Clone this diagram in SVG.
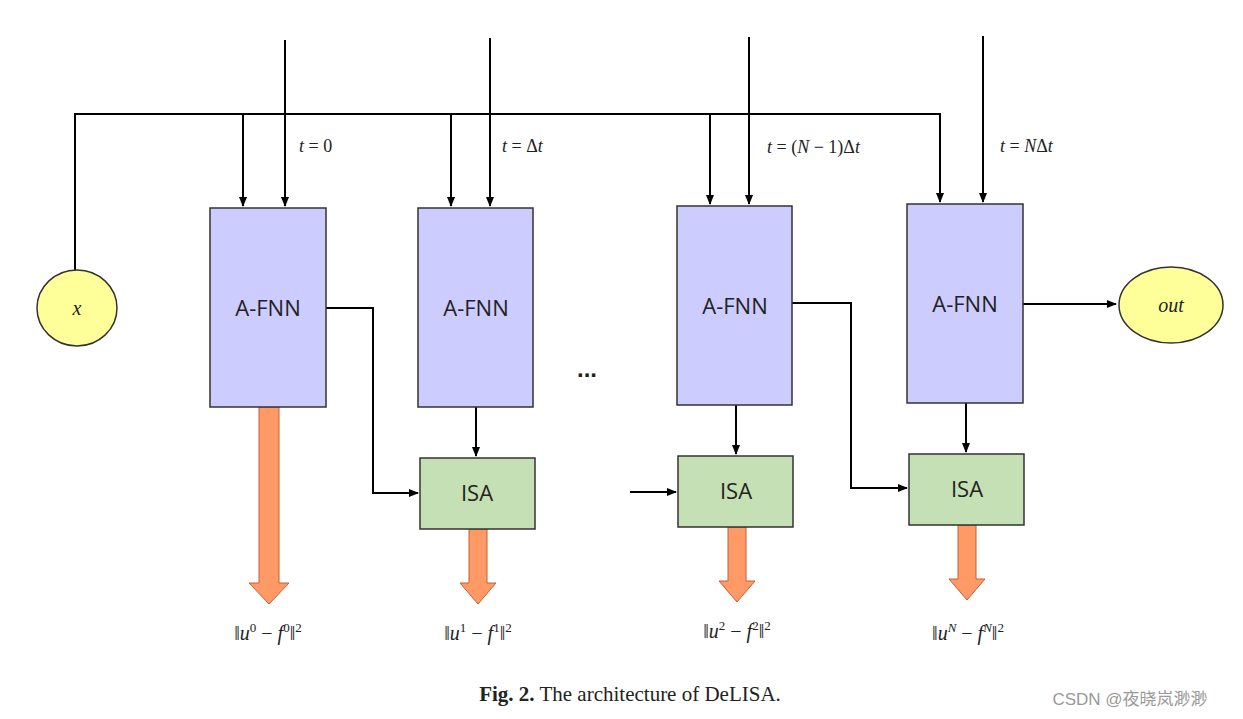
<svg xmlns="http://www.w3.org/2000/svg" width="1243" height="719" viewBox="0 0 1243 719">
<defs>
<marker id="ah" markerWidth="10" markerHeight="8" refX="9" refY="4" orient="auto" markerUnits="userSpaceOnUse"><path d="M0,0 L10,4 L0,8 Z" fill="#000"/></marker>
<style>
.fnn{fill:#ccccff;stroke:#333;stroke-width:1.5}
.isa{fill:#c5e0b4;stroke:#333;stroke-width:1.5}
.yel{fill:#ffff99;stroke:#333;stroke-width:1.5}
.big{fill:#ff9966;stroke:#c0603a;stroke-width:1}
.lbl{font-family:"Open Sans","Liberation Sans",sans-serif;font-size:22px;fill:#222;text-anchor:middle}
.m{font-family:"Liberation Serif",serif;font-size:18px;fill:#222}
.f{font-family:"Liberation Serif",serif;font-size:20px;fill:#222;text-anchor:middle}
.c{fill:none;stroke:#000;stroke-width:2}
</style>
</defs>
<rect width="1243" height="719" fill="#fff"/>
<g id="connectors">
<path class="c" d="M75,270 V114 H940 V202" marker-end="url(#ah)"/>
<path class="c" d="M243,114 V206" marker-end="url(#ah)"/>
<path class="c" d="M285,40 V206" marker-end="url(#ah)"/>
<path class="c" d="M451,114 V206" marker-end="url(#ah)"/>
<path class="c" d="M490,38 V206" marker-end="url(#ah)"/>
<path class="c" d="M710,114 V204" marker-end="url(#ah)"/>
<path class="c" d="M749,37 V204" marker-end="url(#ah)"/>
<path class="c" d="M983,36 V202" marker-end="url(#ah)"/>
<path class="c" d="M326,308 H373 V493 H418" marker-end="url(#ah)"/>
<path class="c" d="M476,407 V456" marker-end="url(#ah)"/>
<path class="c" d="M630,492 H676" marker-end="url(#ah)"/>
<path class="c" d="M792,303 H851 V488 H907" marker-end="url(#ah)"/>
<path class="c" d="M736,405 V454" marker-end="url(#ah)"/>
<path class="c" d="M966,403 V452" marker-end="url(#ah)"/>
<path class="c" d="M1023,304 H1116" marker-end="url(#ah)"/>
<path class="big" d="M259,407 H279 V583 H289 L269,604 L249,583 H259 Z"/>
<path class="big" d="M469,529 H487 V583 H496 L478,604 L460,583 H469 Z"/>
<path class="big" d="M728,527 H746 V581 H755 L737,602 L719,581 H728 Z"/>
<path class="big" d="M958,525 H976 V579 H985 L967,600 L949,579 H958 Z"/>
</g>
<g id="x"><ellipse class="yel" cx="77" cy="308" rx="40" ry="38"/><text class="f" x="77" y="315" font-style="italic" font-size="22">x</text></g>
<g id="out"><ellipse class="yel" cx="1171" cy="305" rx="52" ry="38"/><text class="f" x="1171" y="312" font-style="italic" font-size="24">out</text></g>
<g id="fnn1"><rect class="fnn" x="210" y="208" width="116" height="199"/><text class="lbl" x="268" y="316">A-FNN</text></g>
<g id="fnn2"><rect class="fnn" x="418" y="208" width="115" height="199"/><text class="lbl" x="476" y="316">A-FNN</text></g>
<g id="fnn3"><rect class="fnn" x="677" y="206" width="115" height="199"/><text class="lbl" x="735" y="314">A-FNN</text></g>
<g id="fnn4"><rect class="fnn" x="907" y="204" width="116" height="199"/><text class="lbl" x="965" y="312">A-FNN</text></g>
<g id="isa1"><rect class="isa" x="420" y="458" width="115" height="71"/><text class="lbl" x="477" y="501">ISA</text></g>
<g id="isa2"><rect class="isa" x="678" y="456" width="115" height="71"/><text class="lbl" x="736" y="499">ISA</text></g>
<g id="isa3"><rect class="isa" x="909" y="454" width="115" height="71"/><text class="lbl" x="967" y="497">ISA</text></g>
<text class="m" x="299" y="152"><tspan font-style="italic">t</tspan> = 0</text>
<text class="m" x="502" y="152"><tspan font-style="italic">t</tspan> = Δ<tspan font-style="italic">t</tspan></text>
<text class="m" x="767" y="153"><tspan font-style="italic">t</tspan> = (<tspan font-style="italic">N</tspan> − 1)Δ<tspan font-style="italic">t</tspan></text>
<text class="m" x="1000" y="152"><tspan font-style="italic">t</tspan> = <tspan font-style="italic">N</tspan>Δ<tspan font-style="italic">t</tspan></text>
<text x="587" y="377" font-family="Liberation Sans,sans-serif" font-size="24" font-weight="bold" fill="#222" text-anchor="middle">...</text>
<text class="f" x="268" y="640">‖<tspan font-style="italic">u</tspan><tspan font-size="13" dy="-8">0</tspan><tspan dy="8"> − </tspan><tspan font-style="italic">f</tspan><tspan font-size="13" dy="-8">0</tspan><tspan dy="8">‖</tspan><tspan font-size="13" dy="-8">2</tspan></text>
<text class="f" x="478" y="640">‖<tspan font-style="italic">u</tspan><tspan font-size="13" dy="-8">1</tspan><tspan dy="8"> − </tspan><tspan font-style="italic">f</tspan><tspan font-size="13" dy="-8">1</tspan><tspan dy="8">‖</tspan><tspan font-size="13" dy="-8">2</tspan></text>
<text class="f" x="737" y="638">‖<tspan font-style="italic">u</tspan><tspan font-size="13" dy="-8">2</tspan><tspan dy="8"> − </tspan><tspan font-style="italic">f</tspan><tspan font-size="13" dy="-8">2</tspan><tspan dy="8">‖</tspan><tspan font-size="13" dy="-8">2</tspan></text>
<text class="f" x="968" y="640">‖<tspan font-style="italic">u</tspan><tspan font-size="13" dy="-8" font-style="italic">N</tspan><tspan dy="8"> − </tspan><tspan font-style="italic">f</tspan><tspan font-size="13" dy="-8" font-style="italic">N</tspan><tspan dy="8">‖</tspan><tspan font-size="13" dy="-8">2</tspan></text>
<text x="630" y="701" font-family="Liberation Serif,serif" font-size="21" fill="#222" text-anchor="middle"><tspan font-weight="bold">Fig. 2.</tspan> The architecture of DeLISA.</text>
<text x="1130" y="705" font-family="Liberation Sans,'Noto Sans CJK SC',sans-serif" font-size="17" fill="#999" text-anchor="middle">CSDN @夜晓岚渺渺</text>
</svg>
